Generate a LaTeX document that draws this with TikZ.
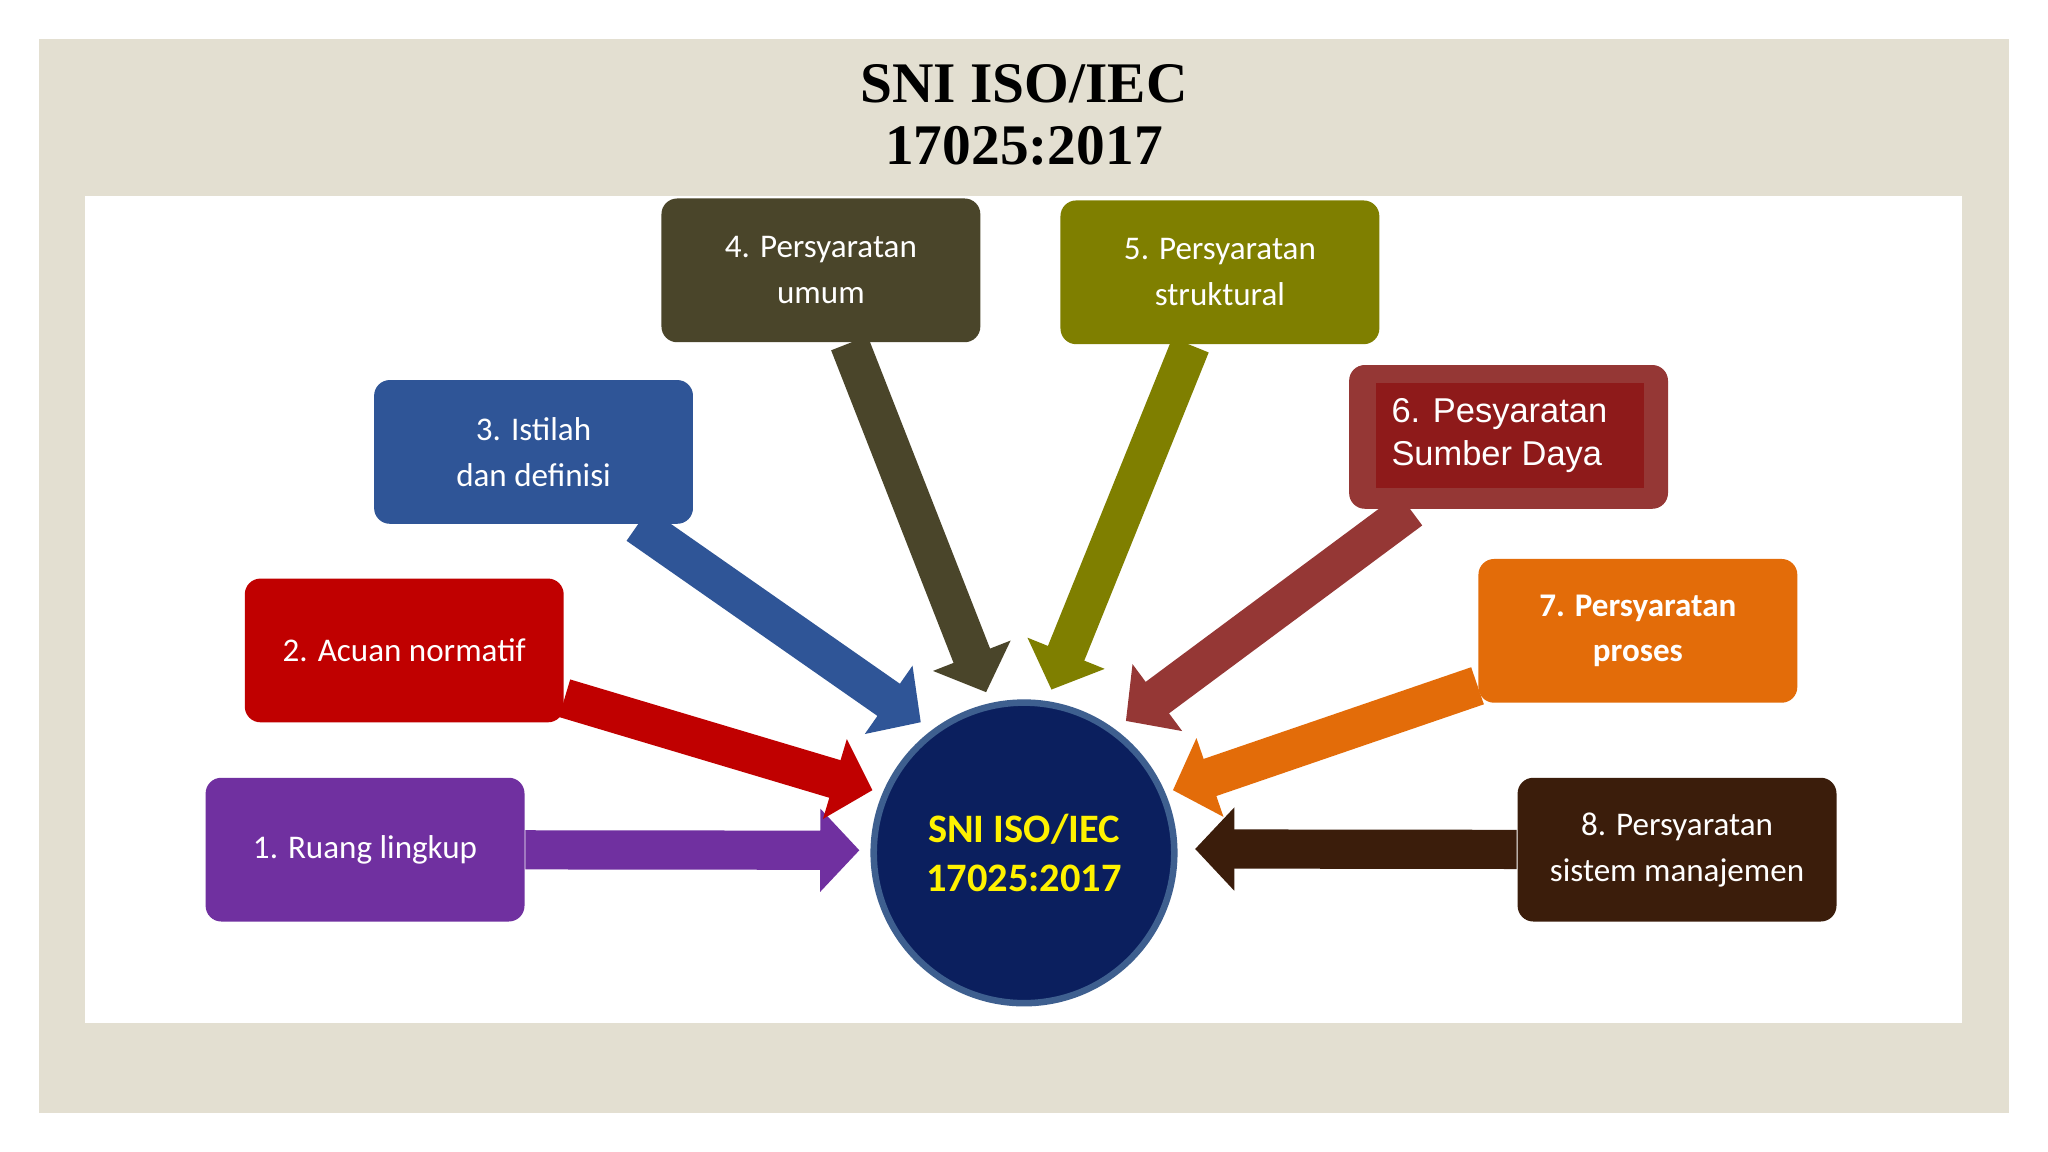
\documentclass[tikz,border=0pt]{standalone}
\usepackage{fontspec}
\setmainfont{Carlito}
\newfontfamily\arialf{Liberation Sans}
\newfontfamily\timesf{Liberation Serif}
\usetikzlibrary{arrows.meta}
\pgfdeclarelayer{bgl}\pgfdeclarelayer{arl}
\pgfsetlayers{bgl,arl,main}
\definecolor{beige}{HTML}{E3DFD1}
\definecolor{c1}{HTML}{7030A0}\definecolor{c2}{HTML}{C00000}
\definecolor{c3}{HTML}{2F5597}\definecolor{c4}{HTML}{4A452A}
\definecolor{c5}{HTML}{7F7F00}\definecolor{c6}{HTML}{953735}
\definecolor{c6i}{HTML}{8E1A1A}\definecolor{c7}{HTML}{E36C09}
\definecolor{c8}{HTML}{3B1D0B}\definecolor{navy}{HTML}{0B1F5E}
\definecolor{ring}{HTML}{3E5F8F}
\tikzset{
 box/.style={rounded corners=0.12cm,minimum width=2.44cm,minimum height=1.1cm,align=center,text=white,font=\fontsize{7.2pt}{10pt}\selectfont},
 blk/.style={line width=0.3cm,-{Triangle[width=0.62cm,length=0.3cm]}}
}
\begin{document}
\begin{tikzpicture}[x=0.01cm,y=-0.01cm]
\useasboundingbox (0,0) rectangle (1568,882);
\begin{pgfonlayer}{bgl}
\fill[beige] (30,30) rectangle (1538,852);
\fill[white] (65,150) rectangle (1502,783);
\end{pgfonlayer}
\node[font=\timesf\bfseries\fontsize{12.5pt}{13.5pt}\selectfont,align=center] (title) at (784,88) {SNI ISO/IEC\\17025:2017};
\node[circle,fill=navy,draw=ring,line width=0.05cm,minimum size=2.3cm,text=yellow,align=center,font=\bfseries\fontsize{8.8pt}{10.5pt}\selectfont] (c) at (784,653) {SNI ISO/IEC\\17025:2017};
\node[box,fill=c1] (b1) at (279.5,650.5) {1. Ruang lingkup};
\node[box,fill=c2] (b2) at (309.5,498) {2. Acuan normatif};
\node[box,fill=c3] (b3) at (408.5,346) {3. Istilah\\dan definisi};
\node[box,fill=c4] (b4) at (628.5,207) {4. Persyaratan\\umum};
\node[box,fill=c5] (b5) at (934,208.5) {5. Persyaratan\\struktural};
\node[box,fill=c6] (b6) at (1155,334.5) {};
\node[fill=c6i,minimum width=2cm,minimum height=0.75cm,text=white,align=left,font=\arialf\fontsize{7.5pt}{9.2pt}\selectfont,inner sep=0.12cm] (b6i) at (1156,333.5) {6. Pesyaratan\\Sumber Daya\hspace*{0.2cm}};
\node[box,fill=c7,font=\bfseries\fontsize{7.2pt}{10pt}\selectfont] (b7) at (1254,483) {7. Persyaratan\\proses};
\node[box,fill=c8] (b8) at (1284,650.5) {8. Persyaratan\\sistem manajemen};
\coordinate (t1) at (658,651);
\coordinate (t2) at (668,605);
\coordinate (t3) at (705,553);
\coordinate (t4) at (755,530);
\coordinate (t5) at (805,528);
\coordinate (t6) at (862,552);
\coordinate (t7) at (898,605);
\coordinate (t8) at (915,650);
\begin{pgfonlayer}{arl}
\draw[blk,c1] (b1) -- (t1);
\draw[blk,c2] (b2) -- (t2);
\draw[blk,c3] (b3) -- (t3);
\draw[blk,c4] (b4) -- (t4);
\draw[blk,c5] (b5) -- (t5);
\draw[blk,c6] (b6) -- (t6);
\draw[blk,c7] (b7) -- (t7);
\draw[blk,c8] (b8) -- (t8);
\end{pgfonlayer}
\end{tikzpicture}
\end{document}
